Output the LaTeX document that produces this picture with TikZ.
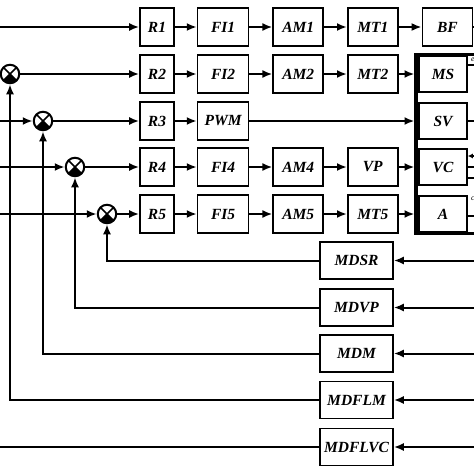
\documentclass[tikz,border=0pt]{standalone}
\usepackage{fontspec}
\setmainfont{Liberation Serif}
\usetikzlibrary{arrows.meta,positioning}

\begin{document}
\begin{tikzpicture}[x=1pt,y=-1pt,>={Latex[length=10pt,width=8pt]},node distance=23pt,
 n/.style={draw=black,line width=1.6pt,minimum width=50pt,minimum height=38pt,inner sep=1pt,font=\bfseries\itshape\fontsize{15.5}{18}\selectfont},
 r/.style={n,minimum width=34pt},
 md/.style={n,minimum width=73pt,minimum height=37pt},
 outb/.style={n,minimum width=48pt,minimum height=36pt},
 sig/.style={line width=2pt},
 sumj/.style={circle,draw=black,line width=2pt,minimum size=18.5pt,inner sep=0pt,
  path picture={\fill[black] (path picture bounding box.center) -- (path picture bounding box.south west) -- (path picture bounding box.south east) -- cycle;
   \draw[line width=1.5pt] (path picture bounding box.south west) -- (path picture bounding box.north east)
    (path picture bounding box.north west) -- (path picture bounding box.south east);}},
 tiny/.style={font=\itshape\fontsize{8}{8}\selectfont,inner sep=0pt}]
\useasboundingbox (0,0) rectangle (474,474);
\clip (0,0) rectangle (474,474);
% forward rows
\node[r] (r1) at (157,27) {R1};
\node[n,right=22pt of r1,minimum width=51pt] (fi1) {FI1};
\node[n,right=of fi1] (am1) {AM1};
\node[n,right=of am1] (mt1) {MT1};
\node[n,right=of mt1] (bf) {BF};
\node[r] (r2) at (157,74) {R2};
\node[n,right=22pt of r2,minimum width=51pt] (fi2) {FI2};
\node[n,right=of fi2] (am2) {AM2};
\node[n,right=of am2] (mt2) {MT2};
\node[r] (r3) at (157,121) {R3};
\node[n,right=22pt of r3,minimum width=51pt] (pwm) {PWM};
\node[r] (r4) at (157,167) {R4};
\node[n,right=22pt of r4,minimum width=51pt] (fi4) {FI4};
\node[n,right=of fi4] (am4) {AM4};
\node[n,right=of am4] (vp) {VP};
\node[r] (r5) at (157,214) {R5};
\node[n,right=22pt of r5,minimum width=51pt] (fi5) {FI5};
\node[n,right=of fi5] (am5) {AM5};
\node[n,right=of am5] (mt5) {MT5};
% plant block
\node[outb] (ms) at (443,74) {MS};
\node[outb] (sv) at (443,121) {SV};
\node[outb] (vc) at (443,167) {VC};
\node[outb] (a) at (443,214) {A};
\draw[line width=3.2pt] (416,54.5) rectangle (490,233.5);
\coordinate (f2) at (414.5,74);
\coordinate (f3) at (414.5,121);
\coordinate (f4) at (414.5,167);
\coordinate (f5) at (414.5,214);
% summing junctions
\node[sumj] (s1) at (10,74) {};
\node[sumj] (s2) at (43,121) {};
\node[sumj] (s3) at (75,167) {};
\node[sumj] (s4) at (107,214) {};
\coordinate (l1) at (0,27);
\coordinate (l2) at (0,74);
\coordinate (l3) at (0,121);
\coordinate (l4) at (0,167);
\coordinate (l5) at (0,214);
\coordinate (l6) at (0,447);
% feedback blocks
\node[md] (mdsr) at (356.5,260.5) {MDSR};
\node[md] (mdvp) at (356.5,307.5) {MDVP};
\node[md] (mdm) at (356.5,353.5) {MDM};
\node[md] (mdflm) at (356.5,400) {MDFLM};
\node[md] (mdflvc) at (356.5,447) {MDFLVC};
\coordinate (q1) at (474,260.5);
\coordinate (q2) at (474,307.5);
\coordinate (q3) at (474,353.5);
\coordinate (q4) at (474,400);
\coordinate (q5) at (474,447);
% right edge stubs
\coordinate (bfo) at (474,27);
\coordinate (mso) at (474,65);
\coordinate (svo) at (474,121);
\coordinate (vci) at (474,156);
\coordinate (vco1) at (474,167);
\coordinate (vco2) at (474,178);
\coordinate (ao) at (474,216);
\node[tiny] (mslbl) at (473,60) {e};
\node[tiny] (albl) at (473,199) {c};

\draw[sig,->] (l1) -- (r1);
\draw[sig] (l2) -- (s1);
\draw[sig,->] (s1) -- (r2);
\draw[sig,->] (l3) -- (s2);
\draw[sig,->] (s2) -- (r3);
\draw[sig,->] (l4) -- (s3);
\draw[sig,->] (s3) -- (r4);
\draw[sig,->] (l5) -- (s4);
\draw[sig,->] (s4) -- (r5);
\draw[sig,->] (r1) -- (fi1);
\draw[sig,->] (fi1) -- (am1);
\draw[sig,->] (am1) -- (mt1);
\draw[sig,->] (mt1) -- (bf);
\draw[sig,->] (r2) -- (fi2);
\draw[sig,->] (fi2) -- (am2);
\draw[sig,->] (am2) -- (mt2);
\draw[sig,->] (mt2) -- (f2);
\draw[sig,->] (r3) -- (pwm);
\draw[sig,->] (pwm) -- (f3);
\draw[sig,->] (r4) -- (fi4);
\draw[sig,->] (fi4) -- (am4);
\draw[sig,->] (am4) -- (vp);
\draw[sig,->] (vp) -- (f4);
\draw[sig,->] (r5) -- (fi5);
\draw[sig,->] (fi5) -- (am5);
\draw[sig,->] (am5) -- (mt5);
\draw[sig,->] (mt5) -- (f5);
% feedback
\draw[sig,->] (mdsr) -| (s4);
\draw[sig,->] (mdvp) -| (s3);
\draw[sig,->] (mdm) -| (s2);
\draw[sig,->] (mdflm) -| (s1);
\draw[sig] (mdflvc) -- (l6);
\draw[sig,->] (q1) -- (mdsr);
\draw[sig,->] (q2) -- (mdvp);
\draw[sig,->] (q3) -- (mdm);
\draw[sig,->] (q4) -- (mdflm);
\draw[sig,->] (q5) -- (mdflvc);
\draw[sig] (bf) -- (bfo);
\draw[sig] (mso -| ms.east) -- (mso);
\draw[sig] (sv) -- (svo);
\draw[sig,-{Latex[length=5pt,width=5pt]}] (vci) -- (vci -| vc.east);
\draw[sig] (vco1 -| vc.east) -- (vco1);
\draw[sig] (vco2 -| vc.east) -- (vco2);
\draw[sig] (ao -| a.east) -- (ao);
\end{tikzpicture}
\end{document}
